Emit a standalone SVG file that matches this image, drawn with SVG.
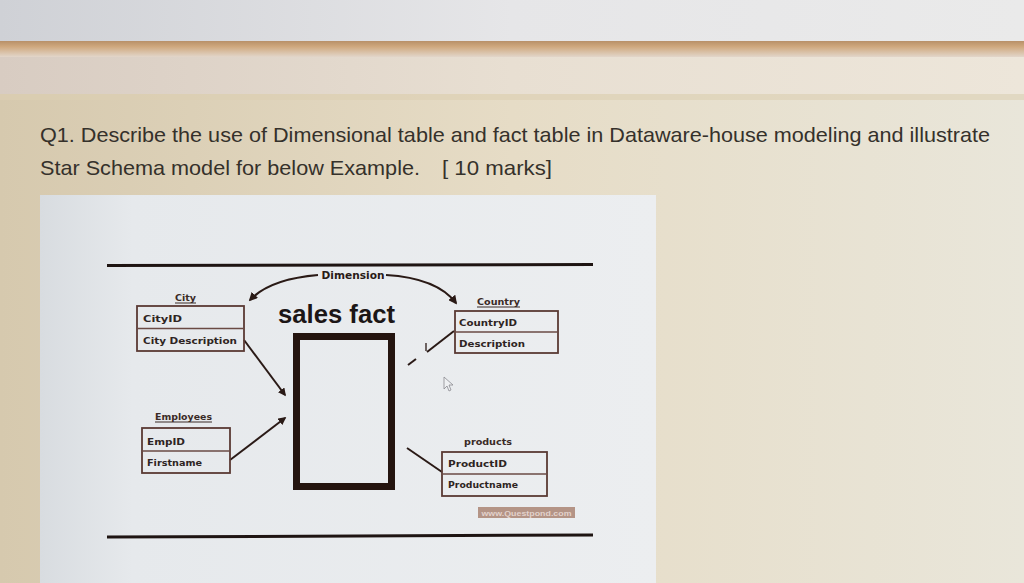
<svg xmlns="http://www.w3.org/2000/svg" width="1024" height="583" viewBox="0 0 1024 583">
<defs>
<linearGradient id="bgMain" x1="0" y1="0" x2="1" y2="0">
<stop offset="0" stop-color="#d6c9ae"/>
<stop offset="0.5" stop-color="#e6dcc6"/>
<stop offset="1" stop-color="#e9e6da"/>
</linearGradient>
<linearGradient id="topBand" x1="0" y1="0" x2="1" y2="0">
<stop offset="0" stop-color="#cfd1d6"/>
<stop offset="0.5" stop-color="#e6e6e8"/>
<stop offset="1" stop-color="#eaeaea"/>
</linearGradient>
<linearGradient id="stripe" x1="0" y1="0" x2="0" y2="1">
<stop offset="0" stop-color="#b89068"/>
<stop offset="0.35" stop-color="#cfa87e"/>
<stop offset="1" stop-color="#e2d6ca"/>
</linearGradient>
<linearGradient id="band2" x1="0" y1="0" x2="1" y2="0">
<stop offset="0" stop-color="#d8ccc2"/>
<stop offset="0.5" stop-color="#e8dfd2"/>
<stop offset="1" stop-color="#ede6da"/>
</linearGradient>
<linearGradient id="panel" x1="0" y1="0" x2="1" y2="0">
<stop offset="0" stop-color="#d8dce0"/>
<stop offset="0.15" stop-color="#e6e9ec"/>
<stop offset="1" stop-color="#eceef0"/>
</linearGradient>
<marker id="arr" viewBox="0 0 10 10" refX="8" refY="5" markerWidth="4" markerHeight="4" orient="auto" markerUnits="strokeWidth">
<path d="M0,0 L10,5 L0,10 z" fill="#2a1a16"/>
</marker>
<style>
.q{font-family:"Liberation Sans",Arial,sans-serif;font-size:21px;fill:#35312b}
.ink{stroke:#2a1a16;fill:none}
.tbl{fill:none;stroke:#5a3a34;stroke-width:1.8}
.div{stroke:#6a4a44;stroke-width:1.4}
.cell{font-family:"DejaVu Sans",sans-serif;font-size:9.5px;font-weight:bold;fill:#2e2422}
.lbl{font-family:"DejaVu Sans",sans-serif;font-size:9.5px;font-weight:bold;fill:#3a2a26}
.ul{stroke:#3a2a26;stroke-width:1}
</style>
</defs>

<rect x="0" y="0" width="1024" height="583" fill="url(#bgMain)"/>
<rect x="0" y="0" width="1024" height="41" fill="url(#topBand)"/>
<rect x="0" y="41" width="1024" height="16" fill="url(#stripe)"/>
<rect x="0" y="57" width="1024" height="37" fill="url(#band2)"/>
<rect x="0" y="94" width="1024" height="6" fill="#dccfb2" opacity="0.6"/>

<text class="q" x="40" y="142" textLength="950" lengthAdjust="spacingAndGlyphs">Q1. Describe the use of Dimensional table and fact table in Dataware-house modeling and illustrate</text>
<text class="q" x="40" y="175" textLength="380" lengthAdjust="spacingAndGlyphs">Star Schema model for below Example.</text>
<text class="q" x="442" y="175" textLength="110" lengthAdjust="spacingAndGlyphs">[ 10 marks]</text>

<rect x="40" y="195" width="616" height="388" fill="url(#panel)"/>

<line x1="107" y1="265.5" x2="593" y2="264.5" stroke="#1e1412" stroke-width="3"/>
<line x1="107" y1="537" x2="593" y2="535" stroke="#1e1412" stroke-width="3"/>

<g id="connectors">
<path class="ink" d="M318,275 Q270,279 250,300" stroke-width="2.2" marker-end="url(#arr)"/>
<path class="ink" d="M386,275 Q437,278 456,303" stroke-width="2.2" marker-end="url(#arr)"/>
<path class="ink" d="M244,340 L285,395" stroke-width="2" marker-end="url(#arr)"/>
<path class="ink" d="M230,460 L285,418" stroke-width="2" marker-end="url(#arr)"/>
<path class="ink" d="M454,331 L427,352" stroke-width="2"/>
<path class="ink" d="M426,343 L426,351" stroke-width="1.3"/>
<path class="ink" d="M416,359 L408,365" stroke-width="2"/>
<path class="ink" d="M407,448 L442,472" stroke-width="2"/>
</g>

<g id="dimension-label">
<text x="353" y="279" text-anchor="middle" font-family="DejaVu Sans, sans-serif" font-size="10.5px" font-weight="bold" fill="#2a1a16" textLength="63" lengthAdjust="spacingAndGlyphs">Dimension</text>
</g>

<g id="sales-fact">
<text x="278" y="323" font-family="Liberation Sans, Arial, sans-serif" font-size="25px" font-weight="bold" fill="#1c1616" textLength="117" lengthAdjust="spacingAndGlyphs">sales fact</text>
<rect x="296.5" y="336.5" width="95" height="150" fill="none" stroke="#24140f" stroke-width="7"/>
</g>

<g id="city">
<text class="lbl" x="175" y="301" textLength="21" lengthAdjust="spacingAndGlyphs">City</text>
<line class="ul" x1="175" y1="303" x2="196" y2="303"/>
<rect class="tbl" x="137" y="306" width="107" height="45"/>
<line class="div" x1="137" y1="328.5" x2="244" y2="328.5"/>
<text class="cell" x="143" y="322" textLength="39" lengthAdjust="spacingAndGlyphs">CityID</text>
<text class="cell" x="143" y="344" textLength="94" lengthAdjust="spacingAndGlyphs">City Description</text>
</g>

<g id="country">
<text class="lbl" x="477" y="305" textLength="43" lengthAdjust="spacingAndGlyphs">Country</text>
<line class="ul" x1="477" y1="307" x2="520" y2="307"/>
<rect class="tbl" x="455" y="311" width="103" height="42"/>
<line class="div" x1="455" y1="332" x2="558" y2="332"/>
<text class="cell" x="459" y="326" textLength="58" lengthAdjust="spacingAndGlyphs">CountryID</text>
<text class="cell" x="459" y="347" textLength="66" lengthAdjust="spacingAndGlyphs">Description</text>
</g>

<g id="employees">
<text class="lbl" x="155" y="420" textLength="57" lengthAdjust="spacingAndGlyphs">Employees</text>
<line class="ul" x1="155" y1="422" x2="212" y2="422"/>
<rect class="tbl" x="142" y="428" width="88" height="45"/>
<line class="div" x1="142" y1="451" x2="230" y2="451"/>
<text class="cell" x="147" y="445" textLength="38" lengthAdjust="spacingAndGlyphs">EmpID</text>
<text class="cell" x="147" y="466" textLength="55" lengthAdjust="spacingAndGlyphs">Firstname</text>
</g>

<g id="products">
<text class="lbl" x="464" y="445" textLength="48" lengthAdjust="spacingAndGlyphs">products</text>
<rect class="tbl" x="442" y="452" width="105" height="44"/>
<line class="div" x1="442" y1="474" x2="547" y2="474"/>
<text class="cell" x="448" y="467" textLength="59" lengthAdjust="spacingAndGlyphs">ProductID</text>
<text class="cell" x="448" y="488" textLength="70" lengthAdjust="spacingAndGlyphs">Productname</text>
</g>

<g id="watermark">
<rect x="478" y="507" width="97" height="11" fill="#b49486"/>
<text x="526.5" y="515.5" text-anchor="middle" font-family="Liberation Sans, Arial, sans-serif" font-size="8px" font-weight="bold" fill="#e2d2cc" textLength="90" lengthAdjust="spacingAndGlyphs">www.Questpond.com</text>
</g>

<g id="cursor">
<path d="M444,377 L444,389 L447,386 L449,391 L451,390 L449,385 L453,385 Z" fill="#eef0f2" stroke="#8a8a90" stroke-width="0.8"/>
</g>
</svg>
